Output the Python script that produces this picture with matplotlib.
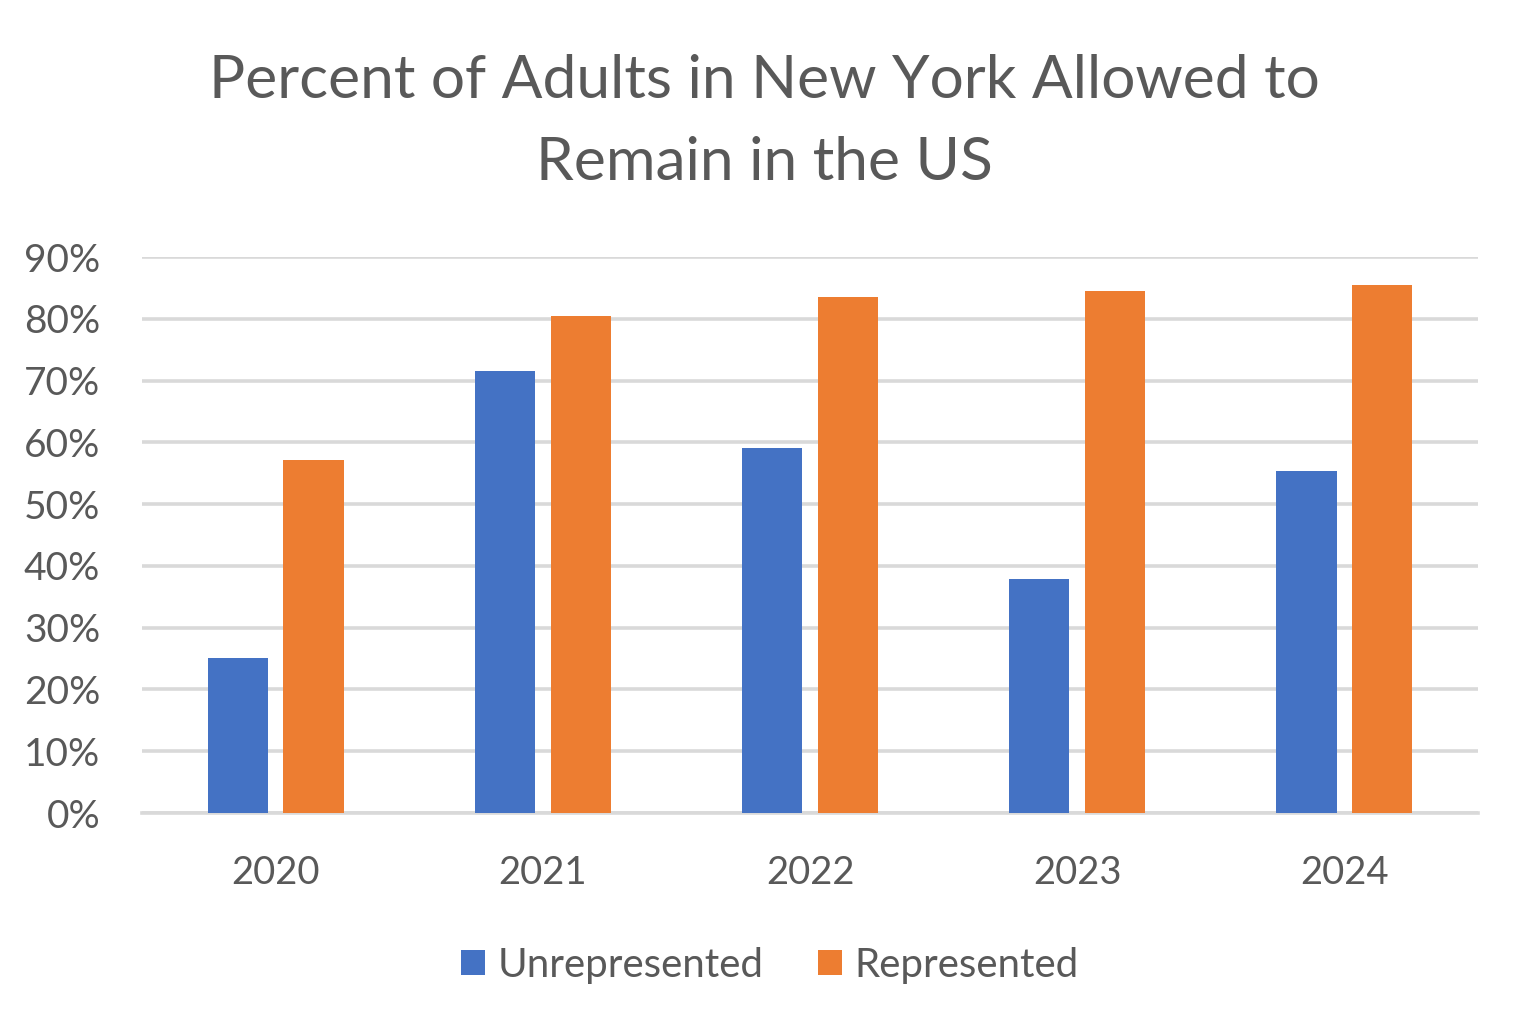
import numpy as np
import matplotlib.pyplot as plt
from matplotlib.ticker import PercentFormatter

# data
years = ["2020", "2021", "2022", "2023", "2024"]
unrepresented = [25.1, 71.5, 59.1, 37.9, 55.4]
represented = [57.1, 80.4, 83.5, 84.5, 85.5]

blue = "#4472C4"
orange = "#ED7D31"
text_color = "#595959"
grid_color = "#D9D9D9"

plt.rcParams["font.family"] = ["Lato", "DejaVu Sans"]

fig = plt.figure(figsize=(15.28, 10.31), dpi=100)
ax = fig.add_axes([142 / 1528, 1 - 813 / 1031, (1478 - 142) / 1528, (813 - 257) / 1031])

x = np.arange(len(years))
width = 0.225
offset = 0.142
ax.bar(x - offset, unrepresented, width, color=blue, label="Unrepresented", zorder=3)
ax.bar(x + offset, represented, width, color=orange, label="Represented", zorder=3)

ax.set_xlim(-0.5, len(years) - 0.5)
ax.set_ylim(0, 90)
ax.set_yticks(np.arange(0, 91, 10))
ax.yaxis.set_major_formatter(PercentFormatter(decimals=0))
ax.set_xticks(x)
ax.set_xticklabels(years)
ax.grid(axis="y", color=grid_color, linewidth=2.6, zorder=0)
ax.set_axisbelow(True)
for s in ["left", "right", "top"]:
    ax.spines[s].set_visible(False)
ax.spines["bottom"].set_color(grid_color)
ax.spines["bottom"].set_linewidth(2.6)
ax.tick_params(axis="y", length=0, labelsize=28, colors=text_color, pad=30)
ax.tick_params(axis="x", length=0, labelsize=27.5, colors=text_color, pad=30)

# title as two lines placed separately
fig.text(0.5, 1 - 98 / 1031, "Percent of Adults in New York Allowed to",
         ha="center", va="baseline", fontsize=43.5, color=text_color)
fig.text(0.5, 1 - 180 / 1031, "Remain in the US",
         ha="center", va="baseline", fontsize=43.5, color=text_color)

fig.legend(loc="center", bbox_to_anchor=(0.504, 1 - 965 / 1031), ncol=2, frameon=False,
           fontsize=29, labelcolor=text_color, handlelength=0.58, handleheight=0.58,
           handletextpad=0.33, columnspacing=1.35)

fig.savefig("out.png", dpi=100)
